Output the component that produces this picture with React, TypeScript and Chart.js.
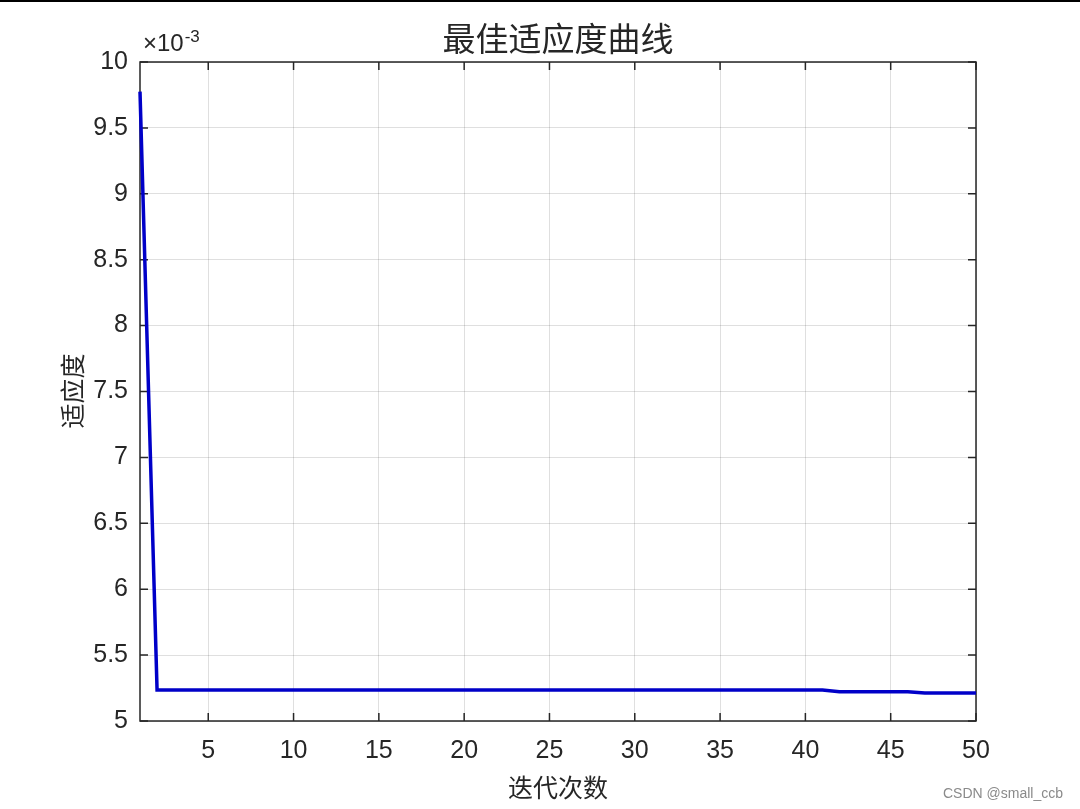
import { Chart, registerables, Plugin } from "chart.js";
import { useEffect, useRef } from "react";

Chart.register(...registerables);

// iteration number and best fitness per iteration
const iterations = [
  1, 2, 3, 4, 5, 6, 7, 8, 9, 10, 11, 12, 13, 14, 15, 16, 17, 18, 19, 20, 21, 22, 23, 24, 25,
  26, 27, 28, 29, 30, 31, 32, 33, 34, 35, 36, 37, 38, 39, 40, 41, 42, 43, 44, 45, 46, 47, 48,
  49, 50,
];
const fitness = [
  0.009775, 0.005235, 0.005235, 0.005235, 0.005235, 0.005235, 0.005235, 0.005235, 0.005235,
  0.005235, 0.005235, 0.005235, 0.005235, 0.005235, 0.005235, 0.005235, 0.005235, 0.005235,
  0.005235, 0.005235, 0.005235, 0.005235, 0.005235, 0.005235, 0.005235, 0.005235, 0.005235,
  0.005235, 0.005235, 0.005235, 0.005235, 0.005235, 0.005235, 0.005235, 0.005235, 0.005235,
  0.005235, 0.005235, 0.005235, 0.005235, 0.005235, 0.005222, 0.005222, 0.005222, 0.005222,
  0.005222, 0.005212, 0.005212, 0.005212, 0.005212,
];
const xTicks = [5, 10, 15, 20, 25, 30, 35, 40, 45, 50];
const yTicks = [0.005, 0.0055, 0.006, 0.0065, 0.007, 0.0075, 0.008, 0.0085, 0.009, 0.0095, 0.01];
const yTickLabels = ["5", "5.5", "6", "6.5", "7", "7.5", "8", "8.5", "9", "9.5", "10"];

const title = "最佳适应度曲线";
const xLabel = "迭代次数";
const yLabel = "适应度";
const watermark = "CSDN @small_ccb";

const numFont = "'Liberation Sans', Arial, sans-serif";
const cjkFont = "'Noto Sans CJK SC', sans-serif";
const ink = "#262626";

// MATLAB style box, inward ticks and the loose texts
const matlabAxes: Plugin<"line"> = {
  id: "matlabAxes",
  beforeDatasetsDraw(chart) {
    const { ctx, chartArea } = chart;
    const { left, right, top, bottom } = chartArea;
    const xs = chart.scales.x;
    const ys = chart.scales.y;
    ctx.save();
    ctx.strokeStyle = ink;
    ctx.lineWidth = 1.5;
    ctx.strokeRect(left, top, right - left, bottom - top);
    ctx.beginPath();
    const tl = 8;
    xTicks.forEach((v) => {
      const px = xs.getPixelForValue(v);
      ctx.moveTo(px, bottom);
      ctx.lineTo(px, bottom - tl);
      ctx.moveTo(px, top);
      ctx.lineTo(px, top + tl);
    });
    yTicks.forEach((v) => {
      const py = ys.getPixelForValue(v);
      ctx.moveTo(left, py);
      ctx.lineTo(left + tl, py);
      ctx.moveTo(right, py);
      ctx.lineTo(right - tl, py);
    });
    ctx.stroke();
    ctx.restore();
  },
  afterDraw(chart) {
    const { ctx, chartArea } = chart;
    const { left, right } = chartArea;
    ctx.save();
    ctx.fillStyle = "#000";
    ctx.fillRect(0, 0, chart.width, 2);

    ctx.fillStyle = ink;
    ctx.textAlign = "center";
    ctx.textBaseline = "middle";
    ctx.font = `33px ${cjkFont}`;
    ctx.fillText(title, (left + right) / 2, 38);

    ctx.font = `25px ${cjkFont}`;
    ctx.fillText(xLabel, (left + right) / 2, 787);

    ctx.save();
    ctx.translate(72, 391);
    ctx.rotate(-Math.PI / 2);
    ctx.font = `25px ${cjkFont}`;
    ctx.fillText(yLabel, 0, 0);
    ctx.restore();

    // exponent
    ctx.textAlign = "left";
    ctx.textBaseline = "alphabetic";
    ctx.font = `24px ${numFont}`;
    ctx.fillText("×10", 143, 51);
    const w = ctx.measureText("×10").width;
    ctx.font = `17px ${numFont}`;
    ctx.fillText("-3", 143 + w + 1, 42);

    ctx.textAlign = "right";
    ctx.textBaseline = "middle";
    ctx.fillStyle = "#8a8a8a";
    ctx.font = `14px ${numFont}`;
    ctx.fillText(watermark, 1063, 794);
    ctx.restore();
  },
};

const App: React.FC = () => {
  const canvasRef = useRef<HTMLCanvasElement | null>(null);
  const chartRef = useRef<Chart<"line"> | null>(null);

  useEffect(() => {
    if (!canvasRef.current) return;
    if (chartRef.current) chartRef.current.destroy();

    chartRef.current = new Chart(canvasRef.current, {
      type: "line",
      data: {
        datasets: [
          {
            data: iterations.map((it, i) => ({ x: it, y: fitness[i] })),
            borderColor: "#0000c8",
            borderWidth: 3.5,
            pointRadius: 0,
            tension: 0,
            clip: false,
          },
        ],
      },
      options: {
        animation: false,
        responsive: false,
        layout: { padding: { left: 0, top: 62, right: 104, bottom: 0 } },
        plugins: { legend: { display: false }, tooltip: { enabled: false } },
        scales: {
          x: {
            type: "linear",
            min: 1,
            max: 50,
            afterBuildTicks: (scale) => {
              scale.ticks = xTicks.map((v) => ({ value: v }));
            },
            afterFit: (scale) => {
              scale.height = 88;
            },
            grid: { color: "rgba(38,38,38,0.15)", lineWidth: 1, drawTicks: false },
            border: { display: false },
            ticks: {
              padding: 15,
              color: ink,
              font: { family: numFont, size: 25 },
              maxRotation: 0,
            },
          },
          y: {
            type: "linear",
            min: 0.005,
            max: 0.01,
            afterBuildTicks: (scale) => {
              scale.ticks = yTicks.map((v) => ({ value: v }));
            },
            afterFit: (scale) => {
              scale.width = 140;
            },
            grid: { color: "rgba(38,38,38,0.15)", lineWidth: 1, drawTicks: false },
            border: { display: false },
            ticks: {
              padding: 12,
              color: ink,
              font: { family: numFont, size: 25 },
              callback: (_v, i) => yTickLabels[i],
            },
          },
        },
      },
      plugins: [matlabAxes],
    });

    return () => {
      if (chartRef.current) {
        chartRef.current.destroy();
        chartRef.current = null;
      }
    };
  }, []);

  return (
    <div style={{ position: "fixed", left: 0, top: 0, width: 1080, height: 809, background: "#fff" }}>
      <canvas ref={canvasRef} width={1080} height={809} style={{ width: 1080, height: 809 }} />
    </div>
  );
};

export default App;
